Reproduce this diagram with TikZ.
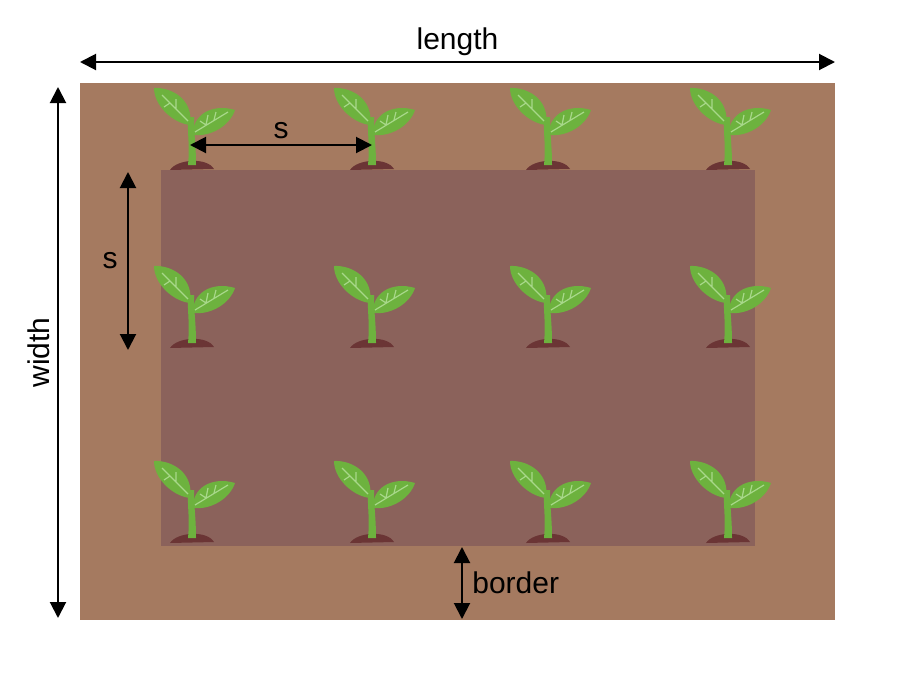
\documentclass[tikz,border=0pt]{standalone}
\usepackage{fontspec}
\setmainfont{Liberation Sans}
\usetikzlibrary{arrows.meta}
\definecolor{field}{HTML}{A57A60}
\definecolor{inner}{HTML}{8B625B}
\definecolor{leaf}{HTML}{6DB23E}
\definecolor{vein}{HTML}{A8D88A}
\definecolor{soil}{HTML}{6B3535}
\begin{document}
\begin{tikzpicture}[x=1pt,y=-1pt,
  dim/.style={line width=2pt,{Triangle[length=16pt,width=16pt]}-{Triangle[length=16pt,width=16pt]}},
  lbl/.style={font=\fontsize{30}{32}\selectfont},
  plant/.pic={
    \fill[soil] (-22,5) .. controls (-15,-6) and (15,-8) .. (22,4) -- cycle;
    \fill[leaf] (-4,0) .. controls (-2,-20) and (-5,-35) .. (-4,-48) -- (2,-48) .. controls (2,-30) and (4,-20) .. (4,0) -- cycle;
    \fill[leaf] (-2,-40) .. controls (-20,-42) and (-38,-60) .. (-38,-77) .. controls (-20,-78) and (2,-65) .. (-2,-40) -- cycle;
    \draw[vein,line width=1.2pt] (-4,-44) -- (-30,-70) (-16,-56) -- (-16,-66) (-22,-62) -- (-28,-58);
    \fill[leaf] (1,-30) .. controls (0,-50) and (20,-62) .. (43,-55) .. controls (38,-40) and (20,-28) .. (1,-30) -- cycle;
    \draw[vein,line width=1.2pt] (3,-33) -- (36,-53) (14,-40) -- (16,-50) (22,-45) -- (24,-53) (14,-40) -- (8,-44);
  }]
\useasboundingbox (0,0) rectangle (900,675);
\fill[field] (80,83) rectangle (835,620);
\fill[inner] (161,170) rectangle (755,546);
\foreach \y in {165,343,538}{
  \foreach \x in {192,372,548,728}{
    \pic at (\x,\y) {plant};
  }
}
\coordinate (lA) at (80,62); \coordinate (lB) at (835,62);
\draw[dim] (lA) -- (lB) node[midway,above=2pt,lbl] {length};
\coordinate (wA) at (58,87); \coordinate (wB) at (58,618);
\draw[dim] (wA) -- (wB) node[midway,lbl,rotate=90,anchor=south,yshift=4pt] {width};
\coordinate (sA) at (190,145); \coordinate (sB) at (372,145);
\draw[dim] (sA) -- (sB) node[midway,above=2pt,lbl] {s};
\coordinate (vA) at (128,172); \coordinate (vB) at (128,350);
\draw[dim] (vA) -- (vB) node[midway,left=6pt,lbl] {s};
\coordinate (bA) at (462,547); \coordinate (bB) at (462,619);
\draw[dim] (bA) -- (bB) node[midway,right=6pt,lbl] {border};
\end{tikzpicture}
\end{document}
